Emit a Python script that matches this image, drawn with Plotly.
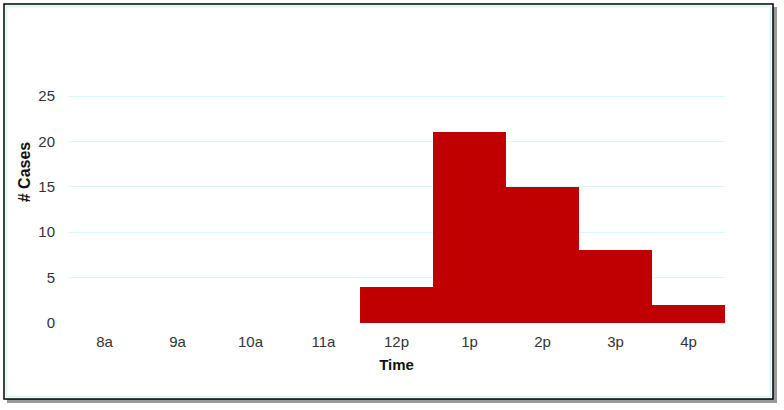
import plotly.graph_objects as go

# -----------------------------------------------------
# DATA
# -----------------------------------------------------

hours = ["8a", "9a", "10a", "11a", "12p", "1p", "2p", "3p", "4p"]

cases = [0, 0, 0, 0, 4, 21, 15, 8, 2]

y_ticks = [0, 5, 10, 15, 20, 25]

# -----------------------------------------------------
# LAYOUT HELPERS (pixel -> paper)
# -----------------------------------------------------

W, H = 784, 410
L, R, T, B = 68, 59, 21, 87

PW = W - L - R
PH = H - T - B

# px per case (0 at y=323, 25 at y=96)
Y_TOP = PH / ((323 - 96) / 25)


def px_x(x):
    return (x - L) / PW


def px_y(y):
    return (H - B - y) / PH


def frame_rect(x0, y0, x1, y1, **kw):
    return dict(
        type="rect",
        xref="paper",
        yref="paper",
        x0=px_x(x0),
        x1=px_x(x1),
        y0=px_y(y1),
        y1=px_y(y0),
        layer="below",
        **kw
    )


# -----------------------------------------------------
# FIGURE
# -----------------------------------------------------

fig = go.Figure()

fig.add_trace(

    go.Bar(

        x=hours,

        y=cases,

        marker=dict(
            color="#C00000",
            line=dict(width=0)
        ),

        hoverinfo="x+y"

    )

)

fig.update_layout(

    width=W,
    height=H,

    margin=dict(l=L, r=R, t=T, b=B),

    paper_bgcolor="white",
    plot_bgcolor="rgba(0,0,0,0)",

    bargap=0,
    showlegend=False,

    font=dict(
        family="Liberation Sans, Arial, sans-serif",
        size=15,
        color="#333333"
    ),

    xaxis=dict(
        title=dict(
            text="<b>Time</b>",
            font=dict(size=15, color="#111111"),
            standoff=10
        ),
        showgrid=False,
        showline=False,
        ticks="",
        ticklabelstandoff=8,
        fixedrange=True
    ),

    yaxis=dict(
        title=dict(
            text="<b># Cases</b>",
            font=dict(size=16, color="#111111"),
            standoff=3
        ),
        range=[0, Y_TOP],
        tickvals=y_ticks,
        gridcolor="#D8FAFA",
        gridwidth=1,
        zeroline=False,
        showline=False,
        ticks="",
        ticklabelstandoff=12,
        fixedrange=True
    ),

    shapes=[
        # drop shadow
        frame_rect(7, 7, 777, 403, line=dict(width=0), fillcolor="#9A9A9A"),
        # outer black frame
        frame_rect(4, 4, 773, 399, line=dict(color="#000000", width=1.5), fillcolor="white"),
        # inner cyan frame
        frame_rect(6.5, 6.5, 770.5, 396.5, line=dict(color="#CFF7F7", width=1.5)),
    ]

)

# page body margin off so the 784x410 figure fills the window
fig.write_html(
    "out.html",
    config={"displayModeBar": False},
    post_script="document.body.style.margin='0';"
)
